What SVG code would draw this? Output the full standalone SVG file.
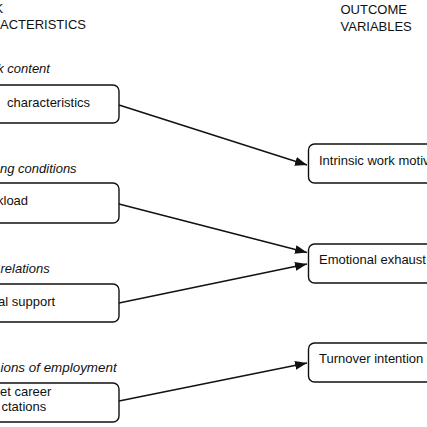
<svg xmlns="http://www.w3.org/2000/svg" width="427" height="427" viewBox="0 0 427 427">
<style>
text{font-family:"Liberation Sans",Arial,sans-serif;font-size:13px;fill:#111}
.it{font-style:italic}
.box{fill:#fff;stroke:#111;stroke-width:1.4}
.conn{stroke:#111;stroke-width:1.4;fill:none;marker-end:url(#ah)}
</style>
<defs>
<marker id="ah" markerUnits="userSpaceOnUse" markerWidth="13" markerHeight="10" refX="12" refY="4.5" orient="auto">
<path d="M0,0 L12,4.5 L0,9 z" fill="#111"/>
</marker>
</defs>
<rect width="427" height="427" fill="#fff"/>
<g id="headers">
<text x="-5.5" y="13">K</text>
<text x="0" y="28.5">ACTERISTICS</text>
<text x="340.5" y="14">OUTCOME</text>
<text x="340.5" y="30.5">VARIABLES</text>
</g>
<g id="labels">
<text class="it" x="-2.8" y="73">k content</text>
<text class="it" x="0" y="173">ng conditions</text>
<text class="it" x="0.5" y="273">relations</text>
<text class="it" x="0.5" y="372" style="font-size:13.4px">ions of employment</text>
</g>
<g id="n1"><rect class="box" x="-20" y="85" width="139" height="38" rx="6"/><text x="7" y="107">characteristics</text></g>
<g id="n2"><rect class="box" x="-20" y="183" width="139" height="40" rx="6"/><text x="-3" y="205">kload</text></g>
<g id="n3"><rect class="box" x="-20" y="284" width="139" height="38" rx="6"/><text x="-2" y="306">al support</text></g>
<g id="n4"><rect class="box" x="-20" y="383" width="139" height="39" rx="6"/><text x="0" y="396">et career</text><text x="1.5" y="411">ctations</text></g>
<g id="o1"><rect class="box" x="308.5" y="144" width="140" height="39" rx="6"/><text x="319" y="165">Intrinsic work motiv</text></g>
<g id="o2"><rect class="box" x="308.5" y="244" width="140" height="39" rx="6"/><text x="319" y="264">Emotional exhaust</text></g>
<g id="o3"><rect class="box" x="308.5" y="343" width="140" height="39" rx="6"/><text x="319" y="363">Turnover intention</text></g>
<g id="connectors">
<line class="conn" x1="119" y1="105" x2="307" y2="165"/>
<line class="conn" x1="119" y1="204" x2="307" y2="252.5"/>
<line class="conn" x1="119" y1="303" x2="307" y2="264"/>
<line class="conn" x1="119" y1="401" x2="307" y2="363"/>
</g>
</svg>
